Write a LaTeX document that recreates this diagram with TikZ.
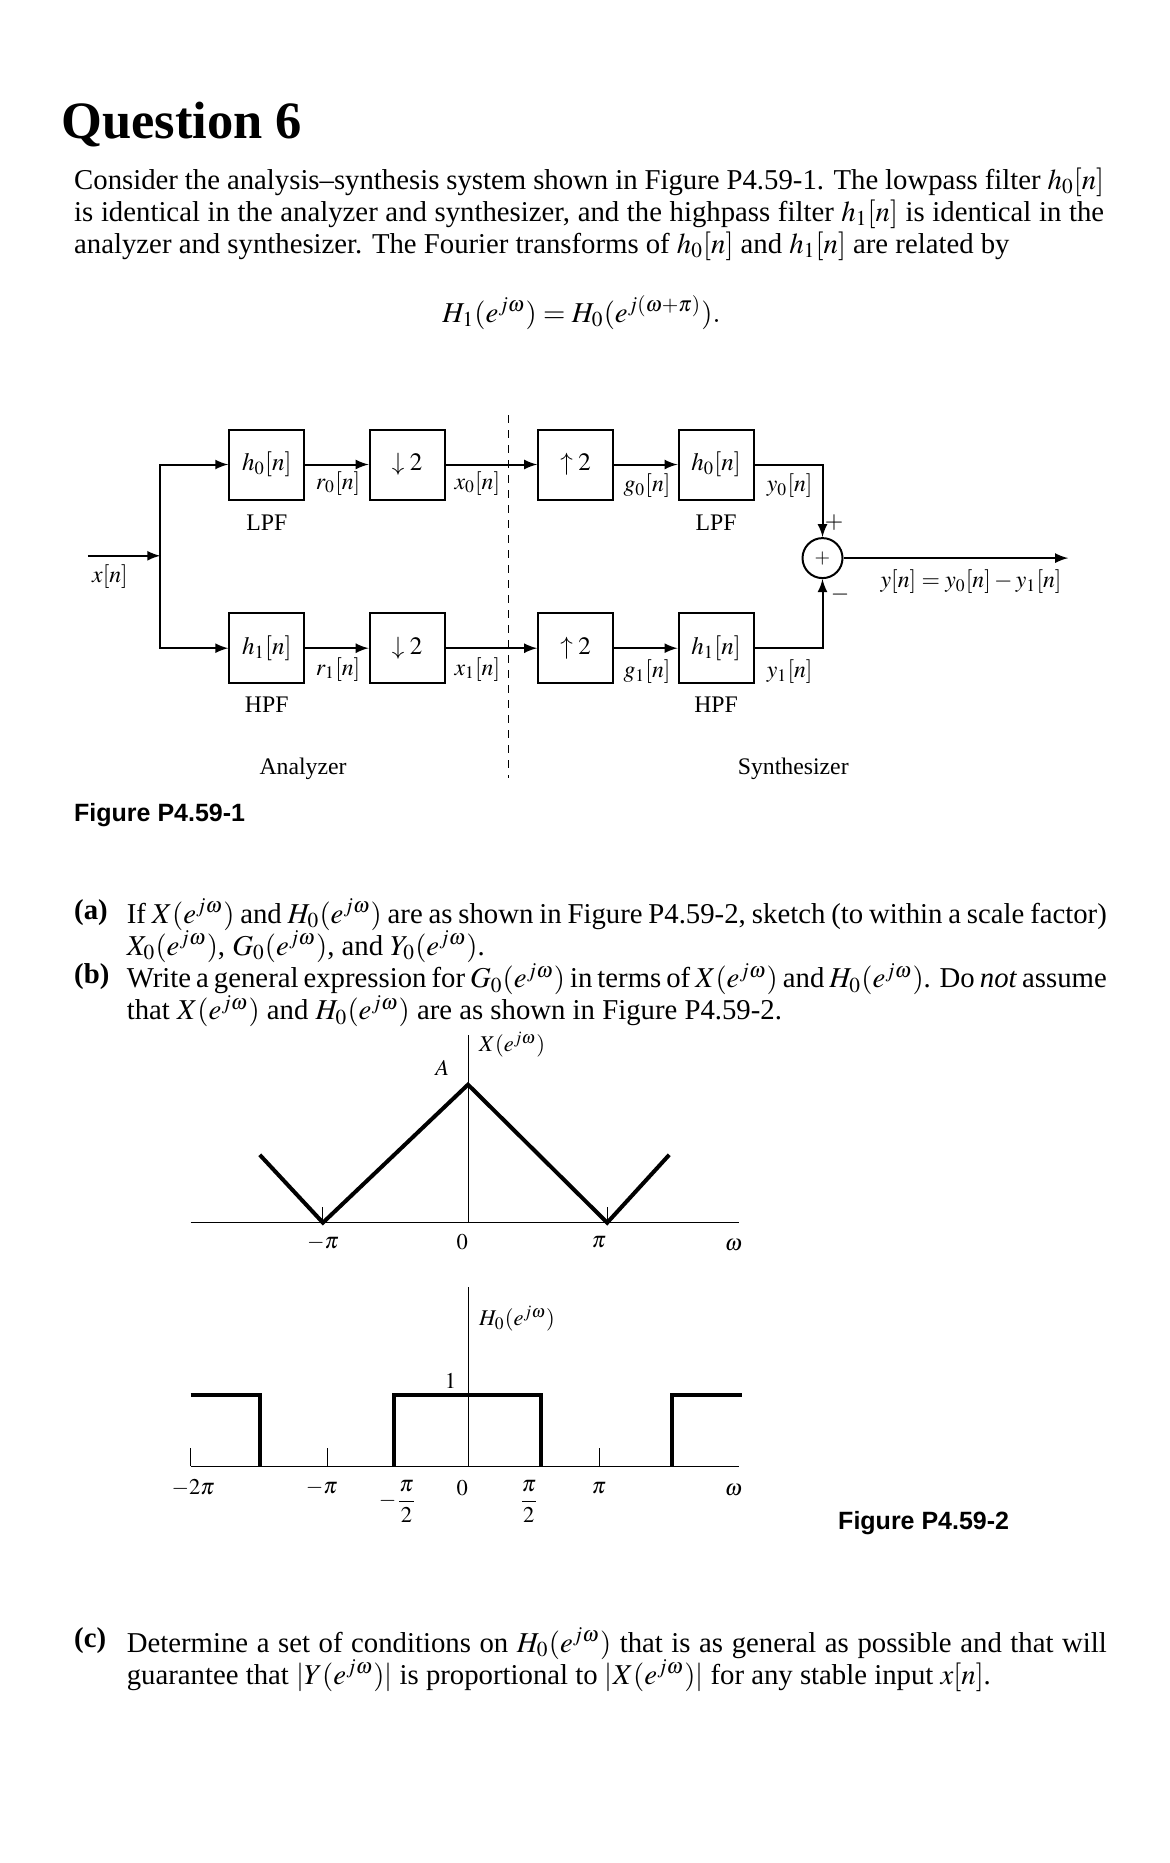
\documentclass[tikz,border=0pt]{standalone}
\usepackage{mathptmx}
\usepackage{fontspec}
\setmainfont{Liberation Serif}
\newfontfamily\figfont{Liberation Sans}
\usetikzlibrary{arrows}
\hyphenpenalty=10000
\exhyphenpenalty=10000

\tikzset{
  blk/.style={draw, thick, minimum width=30pt, minimum height=28pt, inner sep=0pt, font=\fontsize{10}{12}\selectfont},
  sig/.style={font=\fontsize{9.5}{11}\selectfont, inner sep=1pt},
  txt/.style={anchor=north west, align=justify, inner sep=0pt, font=\fontsize{11.5}{12.8}\selectfont},
  curve/.style={line width=1.6pt},
  tick/.style={font=\fontsize{9}{10}\selectfont},
}

\begin{document}
\begin{tikzpicture}[x=0.468pt, y=-0.468pt, >=latex]
    \useasboundingbox (0,0) rectangle (1000,1592.3);
    \fill[white] (0,0) rectangle (1000,1592.3);

    % heading and statement
    \node[anchor=base west, inner sep=0pt, font=\fontsize{21}{24}\selectfont\bfseries] (title) at (52,118) {Question 6};
    \node[txt, text width=412pt] (stmt) at (63,143) {Consider the analysis--synthesis system shown in Figure P4.59-1. The lowpass filter $h_0[n]$ is identical in the analyzer and synthesizer, and the highpass filter $h_1[n]$ is identical in the analyzer and synthesizer. The Fourier transforms of $h_0[n]$ and $h_1[n]$ are related by};
    \node[font=\fontsize{11.5}{13}\selectfont] (eq) at (497,267) {$H_1(e^{j\omega}) = H_0(e^{j(\omega+\pi)}).$};

    % block diagram
    \node[blk] (h0) at (228,397) {$h_0[n]$};
    \node[blk] (d0) at (348,397) {$\downarrow 2$};
    \node[blk] (u0) at (492,397) {$\uparrow 2$};
    \node[blk] (f0) at (612,397) {$h_0[n]$};
    \node[blk] (h1) at (228,554) {$h_1[n]$};
    \node[blk] (d1) at (348,554) {$\downarrow 2$};
    \node[blk] (u1) at (492,554) {$\uparrow 2$};
    \node[blk] (f1) at (612,554) {$h_1[n]$};
    \node[draw, thick, circle, minimum size=16pt, inner sep=0pt, font=\footnotesize] (sum) at (703,477) {$+$};
    \coordinate (xin) at (75,475);
    \coordinate (br) at (137,475);
    \coordinate (yout) at (913,477);

    \draw[thick, ->] (xin) -- (br);
    \draw[thick, ->] (br) |- (h0);
    \draw[thick, ->] (br) |- (h1);
    \draw[thick, ->] (h0) -- (d0);
    \draw[thick, ->] (d0) -- (u0);
    \draw[thick, ->] (u0) -- (f0);
    \draw[thick, ->] (h1) -- (d1);
    \draw[thick, ->] (d1) -- (u1);
    \draw[thick, ->] (u1) -- (f1);
    \draw[thick, ->] (f0) -| (sum);
    \draw[thick, ->] (f1) -| (sum);
    \draw[thick, ->] (sum) -- (yout);
    \draw[dashed] (435,355) -- (435,665);

    \node[sig] (xl) at (94,493) {$x[n]$};
    \node[sig] (r0) at (289,413) {$r_0[n]$};
    \node[sig] (x0) at (408,413) {$x_0[n]$};
    \node[sig] (g0) at (553,415) {$g_0[n]$};
    \node[sig] (y0) at (675,415) {$y_0[n]$};
    \node[sig] (r1) at (289,572) {$r_1[n]$};
    \node[sig] (x1) at (408,572) {$x_1[n]$};
    \node[sig] (g1) at (553,574) {$g_1[n]$};
    \node[sig] (y1) at (675,574) {$y_1[n]$};
    \node[sig] (plus) at (713,447) {$+$};
    \node[sig] (minus) at (718,508) {$-$};
    \node[sig] (yl) at (830,497) {$y[n] = y_0[n] - y_1[n]$};
    \node[sig] (lpfa) at (228,447) {LPF};
    \node[sig] (lpfs) at (612,447) {LPF};
    \node[sig] (hpfa) at (228,602) {HPF};
    \node[sig] (hpfs) at (612,602) {HPF};
    \node[sig] (ana) at (259,657) {Analyzer};
    \node[sig] (syn) at (678,657) {Synthesizer};
    \node[anchor=base west, inner sep=0pt, font=\figfont\bfseries\fontsize{10}{12}\selectfont] (fig1) at (63,702) {Figure P4.59-1};

    % parts (a) and (b)
    \node[txt] (pa) at (63,768) {\textbf{(a)}};
    \node[txt, text width=392pt] (ta) at (108,768) {If $X(e^{j\omega})$ and $H_0(e^{j\omega})$ are as shown in Figure P4.59-2, sketch (to within a scale factor) $X_0(e^{j\omega})$, $G_0(e^{j\omega})$, and $Y_0(e^{j\omega})$.};
    \node[txt] (pb) at (63,823) {\textbf{(b)}};
    \node[txt, text width=392pt] (tb) at (108,823) {Write a general expression for $G_0(e^{j\omega})$ in terms of $X(e^{j\omega})$ and $H_0(e^{j\omega})$. Do \textit{not} assume that $X(e^{j\omega})$ and $H_0(e^{j\omega})$ are as shown in Figure P4.59-2.};

    % spectrum X
    \draw (163,1045) -- (632,1045);
    \draw (400,885) -- (400,1045);
    \draw (276,1032) -- (276,1045);
    \draw (519,1032) -- (519,1045);
    \draw[curve, line join=miter] (222,987) -- (276,1045) -- (400,927) -- (519,1045) -- (572,987);
    \node[tick, anchor=west] (xlab) at (402,893) {$X(e^{j\omega})$};
    \node[tick] (alab) at (378,913) {$A$};
    \node[tick] (xm) at (276,1062) {$-\pi$};
    \node[tick] (x0l) at (395,1062) {$0$};
    \node[tick] (xp) at (512,1062) {$\pi$};
    \node[tick] (xw) at (627,1064) {$\omega$};

    % spectrum H0
    \draw (163,1253) -- (632,1253);
    \draw (400,1100) -- (400,1253);
    \foreach \t in {163,280,512}
        \draw (\t,1238) -- (\t,1253);
    \draw[curve] (163,1192) -- (222,1192) -- (222,1253);
    \draw[curve] (337,1253) -- (337,1192) -- (462,1192) -- (462,1253);
    \draw[curve] (574,1253) -- (574,1192) -- (634,1192);
    \node[tick, anchor=west] (hlab) at (402,1127) {$H_0(e^{j\omega})$};
    \node[tick] (one) at (385,1180) {$1$};
    \node[tick] (hm2) at (165,1272) {$-2\pi$};
    \node[tick] (hm) at (275,1272) {$-\pi$};
    \node[tick] (hmh) at (340,1283) {$-\displaystyle\frac{\pi}{2}$};
    \node[tick] (h0l) at (395,1272) {$0$};
    \node[tick] (hph) at (452,1283) {$\displaystyle\frac{\pi}{2}$};
    \node[tick] (hp) at (512,1272) {$\pi$};
    \node[tick] (hw) at (627,1274) {$\omega$};
    \node[anchor=base west, inner sep=0pt, font=\figfont\bfseries\fontsize{10}{12}\selectfont] (fig2) at (716,1307) {Figure P4.59-2};

    % part (c)
    \node[txt] (pc) at (63,1391) {\textbf{(c)}};
    \node[txt, text width=392pt] (tc) at (108,1391) {Determine a set of conditions on $H_0(e^{j\omega})$ that is as general as possible and that will guarantee that $|Y(e^{j\omega})|$ is proportional to $|X(e^{j\omega})|$ for any stable input $x[n]$.};
\end{tikzpicture}
\end{document}
